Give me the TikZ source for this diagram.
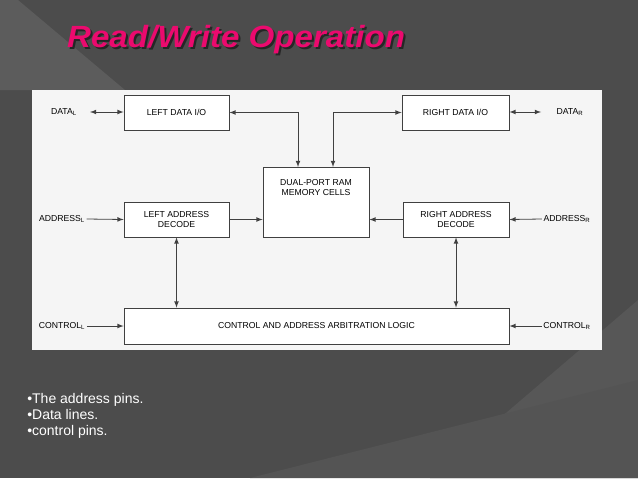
\documentclass[tikz,border=0pt]{standalone}
\usepackage{fontspec}
\setmainfont{Liberation Sans}
\begin{document}
\begin{tikzpicture}[x=0.75pt,y=-0.75pt,
  blk/.style={draw=black!75,line width=0.6pt,fill=white,inner sep=0pt,font=\fontsize{6.5}{8}\selectfont,align=center},
  lab/.style={font=\fontsize{6.5}{8}\selectfont,inner sep=1pt},
  arr/.style={-latex,line width=0.6pt,black!75},
  darr/.style={latex-latex,line width=0.6pt,black!75}]
\useasboundingbox (0,0) rectangle (638,478);
\fill[black!70] (0,0) rectangle (638,478);
\fill[black!64] (0,0) -- (0,90) -- (125,90) -- (18,0) -- cycle;
\fill[black!66] (638,300) -- (430,478) -- (638,478) -- cycle;
\fill[black!67] (250,478) -- (638,380) -- (638,478) -- cycle;
\node[font=\bfseries\itshape\fontsize{23}{26}\selectfont,text=black!85,anchor=west,xscale=1.08] at (64,42) {Read/Write Operation};
\node[font=\bfseries\itshape\fontsize{23}{26}\selectfont,text={rgb,255:red,235;green,10;blue,110},anchor=west,xscale=1.08] (title) at (62,40) {Read/Write Operation};
\fill[white!96!black] (32,90) rectangle (602,350);
\node[blk,minimum width=105*0.75pt,minimum height=35*0.75pt] (ldio) at (176.5,112.5) {LEFT DATA I/O};
\node[blk,minimum width=107*0.75pt,minimum height=35*0.75pt] (rdio) at (455.5,112.5) {RIGHT DATA I/O};
\node[blk,minimum width=106*0.75pt,minimum height=70*0.75pt] (ram) at (316,202) {DUAL-PORT RAM\\MEMORY CELLS\\[14pt]};
\node[blk,minimum width=105*0.75pt,minimum height=35*0.75pt] (lad) at (176.5,219.5) {LEFT ADDRESS\\DECODE};
\node[blk,minimum width=106*0.75pt,minimum height=35*0.75pt] (rad) at (456,219.5) {RIGHT ADDRESS\\DECODE};
\node[blk,minimum width=385*0.75pt,minimum height=36*0.75pt] (ctl) at (316.5,326) {CONTROL AND ADDRESS ARBITRATION LOGIC};
\node[lab] (dl) at (64,112) {DATA\textsubscript{L}};
\node[lab] (dr) at (570,112) {DATA\textsubscript{R}};
\node[lab] (al) at (62,219) {ADDRESS\textsubscript{L}};
\node[lab] (ar) at (567,219) {ADDRESS\textsubscript{R}};
\node[lab] (cl) at (62,326) {CONTROL\textsubscript{L}};
\node[lab] (cr) at (567,326) {CONTROL\textsubscript{R}};
\coordinate (dle) at (90,112);
\coordinate (dre) at (541,112);
\draw[darr] (dle) -- (ldio.west |- dle);
\draw[darr] (rdio.east |- dre) -- (dre);
\draw[arr] (al.east) -- (lad.west);
\draw[arr] (ar.west) -- (rad.east);
\draw[arr] (cl.east) -- (ctl.west |- cl);
\draw[arr] (cr.west) -- (ctl.east |- cr);
\draw[darr] (ldio.east) -- (298,112.5) -- (298,167);
\draw[darr] (rdio.west) -- (333,112.5) -- (333,167);
\draw[arr] (lad.east) -- (ram.west |- lad);
\draw[arr] (rad.west) -- (ram.east |- rad);
\draw[darr] (lad.south) -- (lad.south |- ctl.north);
\draw[darr] (rad.south) -- (rad.south |- ctl.north);
\node[text=white,font=\fontsize{10.5}{12}\selectfont,align=left,anchor=north west,inner sep=0pt] (bul) at (27,393) {•The address pins.\\•Data lines.\\•control pins.};
\end{tikzpicture}
\end{document}
